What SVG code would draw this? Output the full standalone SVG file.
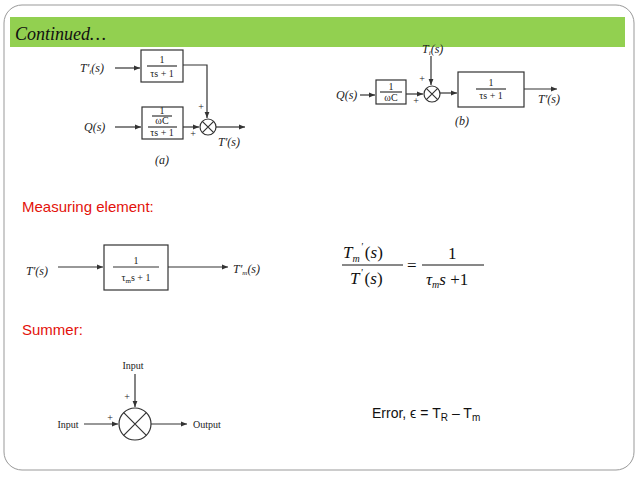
<svg xmlns="http://www.w3.org/2000/svg" width="638" height="478" viewBox="0 0 638 478">
<defs>
<marker id="ah" viewBox="0 0 10 10" refX="10" refY="5" markerWidth="7" markerHeight="5" orient="auto"><path d="M0,1 L10,5 L0,9 z" fill="#333"/></marker>
<style>
.b{fill:#fff;stroke:#333;stroke-width:1.2}
.c{stroke:#333;stroke-width:1.2;fill:none}
.t{font-family:"Liberation Serif",serif;font-style:italic;font-size:12px;fill:#222}
.n{font-family:"Liberation Serif",serif;font-size:10px;fill:#222;text-anchor:middle}
.r{font-family:"Liberation Sans",sans-serif;font-size:15px;fill:#e3120b}
.e{font-family:"Liberation Serif",serif;font-size:17px;fill:#111}
</style>
</defs>
<rect x="4" y="5" width="630" height="465" rx="18" fill="#fff" stroke="#999" stroke-width="1"/>
<rect x="10" y="17" width="615" height="30" fill="#92d050"/>
<text x="15" y="40" font-family="Liberation Serif,serif" font-style="italic" font-size="18" fill="#111">Continued…</text>

<g id="diagram-a">
<text class="t" x="80" y="72">T′<tspan font-size="7" dy="2">i</tspan><tspan dy="-2">(s)</tspan></text>
<rect class="b" x="141" y="50" width="42" height="32"/>
<text class="n" x="162" y="63">1</text><line class="c" x1="147" y1="66" x2="177" y2="66"/><text class="n" x="162" y="77">τs + 1</text>
<text class="t" x="84" y="131">Q(s)</text>
<rect class="b" x="142" y="107" width="41" height="32"/>
<text class="n" x="162" y="114" font-size="8">1</text><line class="c" x1="152" y1="116" x2="172" y2="116" stroke-width="0.8"/><text class="n" x="162" y="124" font-size="8">ωC</text><line class="c" x1="148" y1="127" x2="177" y2="127"/><text class="n" x="162" y="136" font-size="8">τs + 1</text>
<circle class="b" cx="208" cy="127" r="8"/><path class="c" d="M202.3,121.3 L213.7,132.7 M213.7,121.3 L202.3,132.7"/>
<text class="n" x="201" y="110">+</text><text class="n" x="193" y="137">+</text>
<text class="t" x="218" y="146">T′(s)</text>
<text class="t" x="155" y="164">(a)</text>
</g>
<g id="diagram-b">
<text class="t" x="422" y="53">T<tspan font-size="7" dy="2">i</tspan><tspan dy="-2">(s)</tspan></text>
<text class="t" x="336" y="99">Q(s)</text>
<rect class="b" x="376" y="80" width="30" height="24"/>
<text class="n" x="391" y="90">1</text><line class="c" x1="380" y1="92" x2="402" y2="92"/><text class="n" x="391" y="101">ωC</text>
<circle class="b" cx="432" cy="94" r="8"/><path class="c" d="M426.3,88.3 L437.7,99.7 M437.7,88.3 L426.3,99.7"/>
<text class="n" x="422" y="82">+</text><text class="n" x="416" y="104">+</text>
<rect class="b" x="458" y="72" width="66" height="35"/>
<text class="n" x="491" y="86">1</text><line class="c" x1="476" y1="89" x2="506" y2="89"/><text class="n" x="491" y="99">τs + 1</text>
<text class="t" x="538" y="103">T′(s)</text>
<text class="t" x="455" y="125">(b)</text>
</g>

<text class="r" x="22" y="212">Measuring element:</text>
<g id="measuring">
<text class="t" x="26" y="275">T′(s)</text>
<rect class="b" x="104" y="245" width="64" height="45"/>
<text class="n" x="136" y="264">1</text><line class="c" x1="113" y1="267" x2="159" y2="267"/><text class="n" x="136" y="281">τ<tspan font-size="7" dy="2">m</tspan><tspan dy="-2">s + 1</tspan></text>
<text class="t" x="233" y="273">T′<tspan font-size="7" dy="2">m</tspan><tspan dy="-2">(s)</tspan></text>
</g>
<g id="equation">
<text class="e" x="343" y="258" font-style="italic">T<tspan font-size="10" dy="4">m</tspan><tspan font-size="10" dy="-12" dx="1">'</tspan><tspan dy="8" dx="2" font-style="normal">(</tspan><tspan>s</tspan><tspan font-style="normal">)</tspan></text>
<line x1="342" y1="265" x2="403" y2="265" stroke="#111" stroke-width="1"/>
<text class="e" x="350" y="284" font-style="italic">T<tspan font-size="10" dy="-8" dx="1">'</tspan><tspan dy="8" dx="2" font-style="normal">(</tspan><tspan>s</tspan><tspan font-style="normal">)</tspan></text>
<text class="e" x="407" y="271">=</text>
<text class="e" x="448" y="259">1</text>
<line x1="422" y1="265" x2="484" y2="265" stroke="#111" stroke-width="1"/>
<text class="e" x="426" y="285" font-style="italic">τ<tspan font-size="10" dy="3">m</tspan><tspan dy="-3">s</tspan><tspan font-style="normal"> +1</tspan></text>
</g>

<text class="r" x="22" y="335">Summer:</text>
<g id="summer">
<text class="n" x="133" y="369" font-size="11">Input</text>
<text class="n" x="68" y="428" font-size="11">Input</text>
<circle class="b" cx="135" cy="424" r="16"/><path class="c" d="M123.7,412.7 L146.3,435.3 M146.3,412.7 L123.7,435.3"/>
<text class="n" x="127" y="400">+</text><text class="n" x="110" y="421">+</text>
<text class="n" x="207" y="428" font-size="11">Output</text>
</g>
<text x="372" y="418" font-family="Liberation Sans,sans-serif" font-size="14" fill="#111">Error,  ϵ = T<tspan font-size="10" dy="3">R</tspan><tspan dy="-3"> – T</tspan><tspan font-size="10" dy="3">m</tspan></text>

<g id="connectors">
<line class="c" x1="115" y1="68" x2="140" y2="68" marker-end="url(#ah)"/>
<polyline class="c" points="183,65 207,65 207,118" marker-end="url(#ah)"/>
<line class="c" x1="115" y1="127" x2="141" y2="127" marker-end="url(#ah)"/>
<line class="c" x1="183" y1="127" x2="199" y2="127" marker-end="url(#ah)"/>
<line class="c" x1="216" y1="127" x2="245" y2="127" marker-end="url(#ah)"/>
<line class="c" x1="431" y1="56" x2="431" y2="85" marker-end="url(#ah)"/>
<line class="c" x1="360" y1="95" x2="375" y2="95" marker-end="url(#ah)"/>
<line class="c" x1="406" y1="94" x2="423" y2="94" marker-end="url(#ah)"/>
<line class="c" x1="440" y1="93" x2="457" y2="93" marker-end="url(#ah)"/>
<line class="c" x1="524" y1="89" x2="557" y2="89" marker-end="url(#ah)"/>
<line class="c" x1="58" y1="267" x2="103" y2="267" marker-end="url(#ah)"/>
<line class="c" x1="168" y1="267" x2="228" y2="267" marker-end="url(#ah)"/>
<line class="c" x1="135" y1="374" x2="135" y2="407" marker-end="url(#ah)"/>
<line class="c" x1="84" y1="424" x2="118" y2="424" marker-end="url(#ah)"/>
<line class="c" x1="151" y1="424" x2="187" y2="424" marker-end="url(#ah)"/>
</g>
</svg>
